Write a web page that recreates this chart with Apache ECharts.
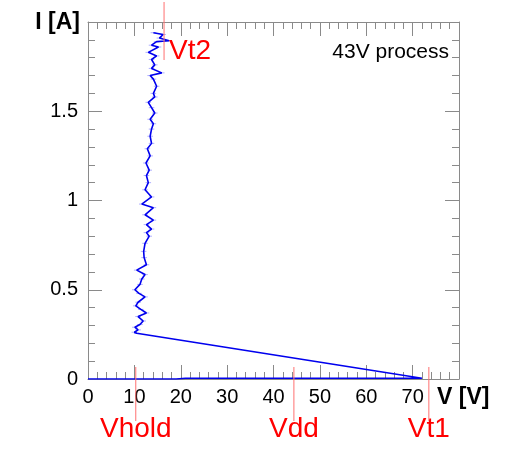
<!DOCTYPE html>
<html><head><meta charset="utf-8">
<script src="https://cdn.jsdelivr.net/npm/echarts@6/dist/echarts.min.js"></script>
<style>html,body{margin:0;padding:0;background:#fff}#c{width:512px;height:450px}</style>
</head><body><div id="c"></div>
<script>
// Voltage (V) and current (A) of the TLP curve, in measurement order
const voltage = [0, 19, 21, 72,
  10.5, 10.0, 10.8, 10.1, 11.2, 11.9, 10.8, 12.6, 11.4, 10.3, 10.8, 12.3, 11.0, 10.1, 11.2, 11.6,
  12.3, 10.5, 12.6, 12.1, 12.0, 12.3, 13.2, 12.6, 13.7, 12.6, 14.1, 12.3, 14.1, 11.6, 13.7, 12.3,
  13.0, 12.6, 13.2, 12.5, 13.4, 12.8, 13.7, 13.4, 13.7, 14.1, 13.4, 14.4, 13.7, 13.0, 14.4, 14.1,
  14.8, 14.1, 13.4, 15.9, 13.7, 14.4, 13.7, 14.8, 13.0, 15.2, 13.7, 14.8, 17.5, 15.4, 16.2, 14.1];
const current = [0, 0, 0.004, 0.004,
  0.256, 0.262, 0.275, 0.29, 0.305, 0.325, 0.35, 0.37, 0.39, 0.41, 0.43, 0.46, 0.48, 0.50, 0.53, 0.56,
  0.585, 0.61, 0.64, 0.68, 0.715, 0.76, 0.80, 0.82, 0.84, 0.865, 0.89, 0.92, 0.96, 0.98, 1.02, 1.06,
  1.10, 1.14, 1.17, 1.21, 1.25, 1.29, 1.32, 1.36, 1.40, 1.43, 1.455, 1.49, 1.52, 1.55, 1.58, 1.60,
  1.64, 1.68, 1.70, 1.715, 1.74, 1.76, 1.79, 1.81, 1.83, 1.86, 1.87, 1.89, 1.895, 1.91, 1.93, 1.94];
const errHalf = 0.6; // horizontal error bar half width (V)
const xTicks = [0, 10, 20, 30, 40, 50, 60, 70];
const yTicks = [0, 0.5, 1, 1.5];
const markNames = ['Vhold', 'Vdd', 'Vt1'];
const markVolts = [10.3, 44.4, 73.5];
const vt2Name = 'Vt2';
const vt2Volt = 16.4;

const points = voltage.map((v, i) => [v, current[i]]);
const errPoints = points.slice(4);

const font = 'Liberation Sans, Arial, sans-serif';
const gray = '#8a8a8a';
const chart = echarts.init(document.getElementById('c'));

function axisCommon(extra) {
  return Object.assign({
    type: 'value',
    axisLine: { show: true, onZero: false, lineStyle: { color: gray, width: 1 } },
    axisTick: { show: true, inside: true, length: 14, lineStyle: { color: gray } },
    minorTick: { show: true, splitNumber: 5, length: 7, lineStyle: { color: gray } },
    splitLine: { show: false },
    minorSplitLine: { show: false }
  }, extra);
}

chart.setOption({
  animation: false,
  grid: { left: 88, right: 53, top: 22, bottom: 71, outerBoundsMode: 'none', containLabel: false },
  xAxis: [
    axisCommon({ min: 0, max: 80, interval: 10, position: 'bottom',
      axisLabel: { fontFamily: font, fontSize: 20, color: '#000', margin: 8,
        formatter: v => xTicks.includes(v) ? String(v) : '' } }),
    axisCommon({ min: 0, max: 80, interval: 10, position: 'top', axisLabel: { show: false } })
  ],
  yAxis: [
    axisCommon({ min: 0, max: 2, interval: 0.5, position: 'left',
      axisLabel: { fontFamily: font, fontSize: 20, color: '#000', margin: 10,
        formatter: v => yTicks.includes(v) ? String(v) : '' } }),
    axisCommon({ min: 0, max: 2, interval: 0.5, position: 'right', axisLabel: { show: false } })
  ],
  series: [
    {
      type: 'custom', xAxisIndex: 0, yAxisIndex: 0, data: errPoints, silent: true, z: 1,
      renderItem: (params, api) => {
        const a = api.coord([api.value(0) - errHalf, api.value(1)]);
        const b = api.coord([api.value(0) + errHalf, api.value(1)]);
        return { type: 'line', shape: { x1: a[0], y1: a[1], x2: b[0], y2: b[1] },
          style: { stroke: 'rgba(110,110,255,0.55)', lineWidth: 1 } };
      }
    },
    {
      type: 'line', xAxisIndex: 0, yAxisIndex: 0, data: points, showSymbol: false, z: 2,
      lineStyle: { color: '#0000ee', width: 1.6 }, silent: true
    }
  ]
});

// Annotations placed through the axis scales
const g = [];
const axisY = chart.convertToPixel({ yAxisIndex: 0 }, 0);
const topY = chart.convertToPixel({ yAxisIndex: 0 }, 2);
markNames.forEach((n, i) => {
  const x = chart.convertToPixel({ xAxisIndex: 0 }, markVolts[i]);
  g.push({ type: 'line', shape: { x1: x, y1: axisY - 12, x2: x, y2: axisY + 42 },
    style: { stroke: '#ff7070', lineWidth: 1 }, z: 10 });
  g.push({ type: 'text', x: x, y: axisY + 50, style: { text: n, fill: '#ff0000',
    font: '28px ' + font, align: 'center', verticalAlign: 'middle' }, z: 11 });
});
const x2 = chart.convertToPixel({ xAxisIndex: 0 }, vt2Volt);
g.push({ type: 'line', shape: { x1: x2, y1: topY - 20, x2: x2, y2: topY + 38 },
  style: { stroke: '#ff7070', lineWidth: 1 }, z: 10 });
g.push({ type: 'text', x: x2 + 5, y: topY + 29, style: { text: vt2Name, fill: '#ff0000',
  font: '28px ' + font, align: 'left', verticalAlign: 'middle' }, z: 11 });
g.push({ type: 'text', x: 449, y: 52, style: { text: '43V process', fill: '#000',
  font: '21px ' + font, align: 'right', verticalAlign: 'middle' }, z: 11 });
g.push({ type: 'text', x: 80, y: 23, style: { text: 'I [A]', fill: '#000',
  font: 'bold 23px ' + font, align: 'right', verticalAlign: 'middle' }, z: 11 });
g.push({ type: 'text', x: 437, y: 398, style: { text: 'V [V]', fill: '#000',
  font: 'bold 23px ' + font, align: 'left', verticalAlign: 'middle' }, z: 11 });
chart.setOption({ graphic: g });
</script></body></html>
